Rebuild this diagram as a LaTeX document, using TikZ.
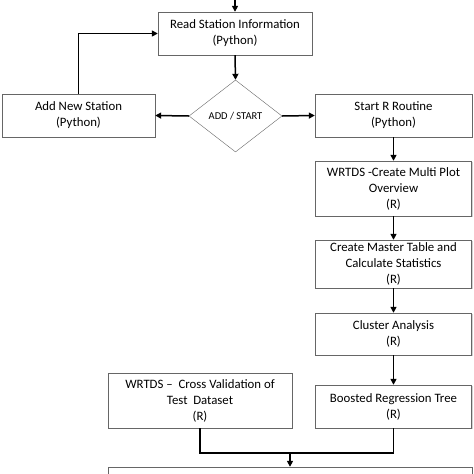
\documentclass[tikz,border=0pt]{standalone}
\usepackage{fontspec}
\setmainfont{Carlito}
\usetikzlibrary{arrows.meta,shapes.geometric,shadows}

\begin{document}
\begin{tikzpicture}[
    x=1pt, y=-1pt,
    >={Triangle[length=6pt,width=6pt]},
    box/.style={draw=black!60, fill=white, align=center, inner sep=1pt,
        font=\fontsize{12.8}{16}\selectfont,
        drop shadow={shadow xshift=1pt, shadow yshift=-1pt, opacity=0.35}},
    dec/.style={diamond, draw=black!60, fill=white, inner sep=0pt,
        minimum width=93pt, minimum height=72pt, font=\fontsize{10.5}{12}\selectfont},
    arr/.style={->, line width=1.5pt},
    ln/.style={line width=1.5pt}
]
    \useasboundingbox (0,0) rectangle (474,474);
    % python part
    \node[box, minimum width=154pt, minimum height=43pt] (rsi) at (235,33.5) {Read Station Information\\(Python)};
    \node[dec] (addst) at (235.5,116) {ADD / START};
    \node[box, minimum width=153pt, minimum height=43pt] (ans) at (78.5,115.5) {Add New Station\\(Python)};
    \node[box, minimum width=157pt, minimum height=43pt] (srr) at (393.5,115.5) {Start R Routine\\(Python)};
    % R part
    \node[box, minimum width=156pt, minimum height=55pt] (mpo) at (393.5,188.5) {WRTDS -Create Multi Plot\\Overview\\(R)};
    \node[box, minimum width=156pt, minimum height=48pt] (mts) at (393.5,264) {Create Master Table and\\Calculate Statistics\\(R)};
    \node[box, minimum width=156pt, minimum height=42pt] (cla) at (393.5,334) {Cluster Analysis\\(R)};
    \node[box, minimum width=156pt, minimum height=43pt] (brt) at (393.5,406.5) {Boosted Regression Tree\\(R)};
    \node[box, minimum width=184pt, minimum height=55pt] (cvt) at (200,400.5) {WRTDS --\ \ Cross Validation of\\Test\ \ Dataset\\(R)};
    \node[box, minimum width=364pt, minimum height=46pt] (out) at (290,490) {};
    \coordinate (top) at (235,-5);
    \coordinate (mrg) at (290,453);
    % connectors
    \draw[arr] (top) -- (rsi.north);
    \draw[arr] (rsi.south) -- (addst.north);
    \draw[arr] (addst.west) -- (ans.east);
    \draw[arr] (addst.east) -- (srr.west);
    \draw[arr] (ans.north) |- (rsi.west);
    \draw[arr] (srr.south) -- (mpo.north);
    \draw[arr] (mpo.south) -- (mts.north);
    \draw[arr] (mts.south) -- (cla.north);
    \draw[arr] (cla.south) -- (brt.north);
    \draw[ln] (cvt.south) |- (mrg) -| (brt.south);
    \draw[arr] (mrg) -- (out.north);
\end{tikzpicture}
\end{document}
